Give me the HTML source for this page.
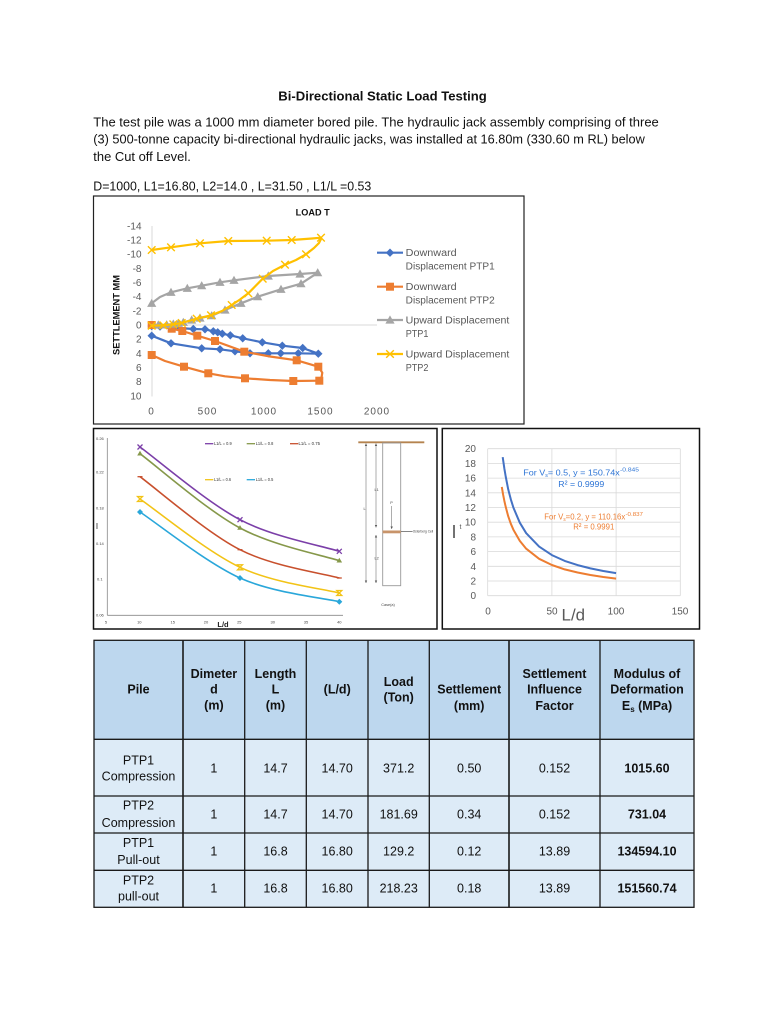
<!DOCTYPE html>
<html><head><meta charset="utf-8"><style>
html,body{margin:0;padding:0;background:#fff;}
svg{display:block;}
text{font-family:"Liberation Sans",sans-serif;}
</style></head><body>
<svg width="768" height="1024" viewBox="0 0 768 1024" xmlns="http://www.w3.org/2000/svg">
<defs>
<path id="dia" d="M0,-4.2 L4.2,0 L0,4.2 L-4.2,0Z" fill="#4472C4"/>
<rect id="sq" x="-4" y="-4" width="8" height="8" fill="#ED7D31"/>
<path id="tri" d="M0,-4.6 L4.6,3.6 L-4.6,3.6Z" fill="#A5A5A5"/>
<path id="xx" d="M-3.8,-3.8 L3.8,3.8 M-3.8,3.8 L3.8,-3.8" stroke="#FFC000" stroke-width="1.4" fill="none"/>
</defs>
<rect width="768" height="1024" fill="#fff"/>

<!-- Heading and paragraph -->
<text x="278.3" y="100.7" font-size="13" font-weight="bold" fill="#111" textLength="208.5" lengthAdjust="spacingAndGlyphs">Bi-Directional Static Load Testing</text>
<text x="93.3" y="126.7" font-size="12.8" fill="#111" textLength="565.5" lengthAdjust="spacingAndGlyphs">The test pile was a 1000 mm diameter bored pile. The hydraulic jack assembly comprising of three</text>
<text x="93.3" y="143.7" font-size="12.8" fill="#111" textLength="551.5" lengthAdjust="spacingAndGlyphs">(3) 500-tonne capacity bi-directional hydraulic jacks, was installed at 16.80m (330.60 m RL) below</text>
<text x="93.3" y="161" font-size="12.8" fill="#111" textLength="97.5" lengthAdjust="spacingAndGlyphs">the Cut off Level.</text>
<text x="93.3" y="190.3" font-size="12.8" fill="#111" textLength="278" lengthAdjust="spacingAndGlyphs">D=1000, L1=16.80, L2=14.0 , L=31.50 , L1/L =0.53</text>

<!-- ============ CHART 1 ============ -->
<rect x="93.5" y="196" width="430.5" height="228" fill="#fff" stroke="#222" stroke-width="1.2"/>
<text x="312.7" y="215.7" font-size="9" font-weight="bold" fill="#111" text-anchor="middle" textLength="34" lengthAdjust="spacingAndGlyphs">LOAD T</text>
<line x1="152" y1="226" x2="152" y2="396.5" stroke="#d9d9d9" stroke-width="1"/>
<line x1="152" y1="325" x2="377" y2="325" stroke="#d9d9d9" stroke-width="1"/>
<g font-size="10" fill="#595959" text-anchor="end">
<text x="141.5" y="229.4">-14</text>
<text x="141.5" y="243.5">-12</text>
<text x="141.5" y="257.7">-10</text>
<text x="141.5" y="271.9">-8</text>
<text x="141.5" y="286">-6</text>
<text x="141.5" y="300.2">-4</text>
<text x="141.5" y="314.3">-2</text>
<text x="141.5" y="328.5">0</text>
<text x="141.5" y="342.7">2</text>
<text x="141.5" y="356.8">4</text>
<text x="141.5" y="371">6</text>
<text x="141.5" y="385.1">8</text>
<text x="141.5" y="399.3">10</text>
</g>
<g font-size="10" fill="#595959" text-anchor="middle" letter-spacing="1">
<text x="151.5" y="414.5">0</text>
<text x="207.5" y="414.5">500</text>
<text x="264" y="414.5">1000</text>
<text x="320.5" y="414.5">1500</text>
<text x="377" y="414.5">2000</text>
</g>
<text transform="translate(119.5,315) rotate(-90)" font-size="9.5" font-weight="bold" fill="#111" text-anchor="middle" textLength="80" lengthAdjust="spacingAndGlyphs">SETTLEMENT MM</text>

<!-- Blue series -->
<g fill="none" stroke="#4472C4" stroke-width="2.2" stroke-linejoin="round" stroke-linecap="round">
<polyline points="151.7,326 193.3,329 205,329.3 213.3,331.3 217.7,332.3 222.3,333.7 230.3,335.3 242.7,338.3 262.3,342.3 282.3,345.7 302.7,348 318.3,353.7"/>
<polyline points="151.7,335.7 171,343.3 201.7,348.3 220,349.3 235,351.3 250,353.3 268.3,353.3 280.7,353.3 298.3,353.3 318.3,353.7"/>
</g>
<use href="#dia" x="151.7" y="326"/><use href="#dia" x="160" y="326.5"/><use href="#dia" x="193.3" y="329"/><use href="#dia" x="205" y="329.3"/><use href="#dia" x="213.3" y="331.3"/><use href="#dia" x="217.7" y="332.3"/><use href="#dia" x="222.3" y="333.7"/><use href="#dia" x="230.3" y="335.3"/><use href="#dia" x="242.7" y="338.3"/><use href="#dia" x="262.3" y="342.3"/><use href="#dia" x="282.3" y="345.7"/><use href="#dia" x="302.7" y="348"/><use href="#dia" x="318.3" y="353.7"/>
<use href="#dia" x="151.7" y="335.7"/><use href="#dia" x="171" y="343.3"/><use href="#dia" x="201.7" y="348.3"/><use href="#dia" x="220" y="349.3"/><use href="#dia" x="235" y="351.3"/><use href="#dia" x="250" y="353.3"/><use href="#dia" x="268.3" y="353.3"/><use href="#dia" x="280.7" y="353.3"/><use href="#dia" x="298.3" y="353.3"/>

<!-- Orange series -->
<g fill="none" stroke="#ED7D31" stroke-width="2.2" stroke-linejoin="round" stroke-linecap="round">
<polyline points="151.7,325 171.7,328.7 182.3,331 197.3,335.7 215,341 244.3,351.7 270,356.5 296.7,360.3 318.3,366.7 322.3,372.7 321,380.7"/>
<polyline points="151.7,355 165,361 184,366.7 208.3,373.3 225,376.3 245,378.3 270,380 293.3,381 319.3,380.7 321,380.7"/>
</g>
<use href="#sq" x="151.7" y="325"/><use href="#sq" x="171.7" y="328.7"/><use href="#sq" x="182.3" y="331"/><use href="#sq" x="197.3" y="335.7"/><use href="#sq" x="215" y="341"/><use href="#sq" x="244.3" y="351.7"/><use href="#sq" x="296.7" y="360.3"/><use href="#sq" x="318.3" y="366.7"/>
<use href="#sq" x="151.7" y="355"/><use href="#sq" x="184" y="366.7"/><use href="#sq" x="208.3" y="373.3"/><use href="#sq" x="245" y="378.3"/><use href="#sq" x="293.3" y="381"/><use href="#sq" x="319.3" y="380.7"/>

<!-- Gray series -->
<g fill="none" stroke="#A5A5A5" stroke-width="2.2" stroke-linejoin="round" stroke-linecap="round">
<polyline points="151.7,303.3 160,297 171,292.3 187.3,288.3 201.7,285.7 220,282.3 234,280.3 268.3,276 300,274 317.7,272.7"/>
<polyline points="151.7,325 158.3,325 166.7,324.7 173.3,324 178.3,323.3 183.3,322.3 191.7,320 200,318 211.7,315.7 225,310 241,303.3 257.7,296.7 281,289.3 301,283.7 317.7,272.7"/>
</g>
<use href="#tri" x="151.7" y="303.3"/><use href="#tri" x="171" y="292.3"/><use href="#tri" x="187.3" y="288.3"/><use href="#tri" x="201.7" y="285.7"/><use href="#tri" x="220" y="282.3"/><use href="#tri" x="234" y="280.3"/><use href="#tri" x="268.3" y="276"/><use href="#tri" x="300" y="274"/><use href="#tri" x="317.7" y="272.7"/>
<use href="#tri" x="158.3" y="325"/><use href="#tri" x="166.7" y="324.7"/><use href="#tri" x="173.3" y="324"/><use href="#tri" x="178.3" y="323.3"/><use href="#tri" x="183.3" y="322.3"/><use href="#tri" x="191.7" y="320"/><use href="#tri" x="200" y="318"/><use href="#tri" x="211.7" y="315.7"/><use href="#tri" x="225" y="310"/><use href="#tri" x="241" y="303.3"/><use href="#tri" x="257.7" y="296.7"/><use href="#tri" x="281" y="289.3"/><use href="#tri" x="301" y="283.7"/>

<!-- Yellow series -->
<g fill="none" stroke="#FFC000" stroke-width="2.2" stroke-linejoin="round" stroke-linecap="round">
<polyline points="151.7,250 171,247.3 200,243.3 228.3,241 266.7,240.7 291.7,240 312,238.5 321,237.7"/>
<polyline points="151.7,325.7 163.3,325.3 173.3,324.3 181.7,323 196.7,318.7 211,315.3 222,311 231.7,305 240,299.5 248.3,293.3 255,286.5 262.7,278.7 273,271 285,264.7 296,260 306,254.3 314,248 319,243 321,239"/>
</g>
<use href="#xx" x="151.7" y="250"/><use href="#xx" x="171" y="247.3"/><use href="#xx" x="200" y="243.3"/><use href="#xx" x="228.3" y="241"/><use href="#xx" x="266.7" y="240.7"/><use href="#xx" x="291.7" y="240"/><use href="#xx" x="321" y="237.7"/>
<use href="#xx" x="151.7" y="325.7"/><use href="#xx" x="163.3" y="325.3"/><use href="#xx" x="173.3" y="324.3"/><use href="#xx" x="181.7" y="323"/><use href="#xx" x="196.7" y="318.7"/><use href="#xx" x="211" y="315.3"/><use href="#xx" x="231.7" y="305"/><use href="#xx" x="248.3" y="293.3"/><use href="#xx" x="262.7" y="278.7"/><use href="#xx" x="285" y="264.7"/><use href="#xx" x="306" y="254.3"/>

<!-- Legend chart 1 -->
<line x1="377" y1="252.7" x2="403" y2="252.7" stroke="#4472C4" stroke-width="2.2"/><use href="#dia" x="390" y="252.7"/>
<line x1="377" y1="286.7" x2="403" y2="286.7" stroke="#ED7D31" stroke-width="2.2"/><use href="#sq" x="390" y="286.7"/>
<line x1="377" y1="320" x2="403" y2="320" stroke="#A5A5A5" stroke-width="2.2"/><use href="#tri" x="390" y="320"/>
<line x1="377" y1="354" x2="403" y2="354" stroke="#FFC000" stroke-width="2.2"/><use href="#xx" x="390" y="354"/>
<g font-size="10" fill="#595959">
<text x="405.7" y="256.2" textLength="51" lengthAdjust="spacingAndGlyphs">Downward</text>
<text x="405.7" y="269.5" textLength="89" lengthAdjust="spacingAndGlyphs">Displacement PTP1</text>
<text x="405.7" y="290.2" textLength="51" lengthAdjust="spacingAndGlyphs">Downward</text>
<text x="405.7" y="303.5" textLength="89" lengthAdjust="spacingAndGlyphs">Displacement PTP2</text>
<text x="405.7" y="323.5" textLength="103.7" lengthAdjust="spacingAndGlyphs">Upward Displacement</text>
<text x="405.7" y="336.8" textLength="22.7" lengthAdjust="spacingAndGlyphs">PTP1</text>
<text x="405.7" y="357.5" textLength="103.7" lengthAdjust="spacingAndGlyphs">Upward Displacement</text>
<text x="405.7" y="370.8" textLength="22.7" lengthAdjust="spacingAndGlyphs">PTP2</text>
</g>

<!-- ============ CHART 2 ============ -->
<rect x="93.5" y="428.5" width="343.5" height="200.5" fill="#fff" stroke="#111" stroke-width="1.5"/>
<line x1="107.3" y1="438" x2="107.3" y2="615.3" stroke="#888" stroke-width="0.8"/>
<line x1="107.3" y1="615.3" x2="343" y2="615.3" stroke="#888" stroke-width="0.8"/>
<g font-size="4" fill="#444" font-family="Liberation Serif,serif">
<text x="96" y="440.2">0.26</text>
<text x="96" y="473.5">0.22</text>
<text x="96" y="509.5">0.18</text>
<text x="96" y="545.2">0.14</text>
<text x="97" y="580.5">0.1</text>
<text x="96" y="616.5">0.06</text>
<g text-anchor="middle">
<text x="106" y="623.5">5</text>
<text x="139.3" y="623.5">10</text>
<text x="172.7" y="623.5">15</text>
<text x="206" y="623.5">20</text>
<text x="239.3" y="623.5">25</text>
<text x="272.7" y="623.5">30</text>
<text x="306" y="623.5">35</text>
<text x="339.3" y="623.5">40</text>
</g>
</g>
<text x="223" y="627" font-size="7.5" font-weight="bold" font-family="Liberation Serif,serif" fill="#222" text-anchor="middle">L/d</text>
<text x="97" y="529" font-size="8" font-family="Liberation Serif,serif" fill="#222" text-anchor="middle">I</text>

<g fill="none" stroke-width="1.6">
<path d="M140,447 C156.7,459.1 206.8,502.3 240,519.7 C273.1,537.1 322.8,546 339.3,551.3" stroke="#7B3FA8"/>
<path d="M140,453.7 C156.7,466.1 206.8,510.2 240,528 C273.1,545.8 322.8,555.3 339.3,560.7" stroke="#86984A"/>
<path d="M140,476.7 C156.7,488.9 206.8,532.8 240,549.7 C273.1,566.6 322.8,573.3 339.3,578" stroke="#C8502D"/>
<path d="M140,499 C156.7,510.4 206.8,551.6 240,567.3 C273.1,583 322.8,588.7 339.3,593" stroke="#F2C316"/>
<path d="M140,512 C156.7,523 206.8,563 240,578 C273.1,593 322.8,597.8 339.3,601.7" stroke="#2AA7DA"/>
</g>
<!-- chart2 markers -->
<g stroke-width="1.3" fill="none">
<path d="M137.5,444.5 L142.5,449.5 M137.5,449.5 L142.5,444.5" stroke="#7B3FA8"/>
<path d="M237.5,517.2 L242.5,522.2 M237.5,522.2 L242.5,517.2" stroke="#7B3FA8"/>
<path d="M336.8,548.8 L341.8,553.8 M336.8,553.8 L341.8,548.8" stroke="#7B3FA8"/>
<path d="M137.5,496.5 L142.5,496.5 L137.5,501.5 L142.5,501.5Z" stroke="#F2C316"/>
<path d="M237.5,564.8 L242.5,564.8 L237.5,569.8 L242.5,569.8Z" stroke="#F2C316"/>
<path d="M336.8,590.5 L341.8,590.5 L336.8,595.5 L341.8,595.5Z" stroke="#F2C316"/>
<path d="M137.5,476.7 L142.5,476.7" stroke="#C8502D"/>
<path d="M237.5,549.7 L242.5,549.7" stroke="#C8502D"/>
<path d="M336.8,578 L341.8,578" stroke="#C8502D"/>
</g>
<path d="M140,450.8 L142.8,455.5 L137.2,455.5Z M240,525.1 L242.8,529.8 L237.2,529.8Z M339.3,557.8 L342.1,562.5 L336.5,562.5Z" fill="#86984A"/>
<path d="M140,509 L143,512 L140,515 L137,512Z M240,575 L243,578 L240,581 L237,578Z M339.3,598.7 L342.3,601.7 L339.3,604.7 L336.3,601.7Z" fill="#2AA7DA"/>

<!-- chart2 legend -->
<g stroke-width="1.3">
<line x1="205" y1="443.7" x2="213.3" y2="443.7" stroke="#7B3FA8"/>
<line x1="246.7" y1="443.7" x2="255" y2="443.7" stroke="#86984A"/>
<line x1="290" y1="443.7" x2="298.3" y2="443.7" stroke="#C8502D"/>
<line x1="205" y1="479.7" x2="213.3" y2="479.7" stroke="#F2C316"/>
<line x1="246.7" y1="479.7" x2="255" y2="479.7" stroke="#2AA7DA"/>
</g>
<g font-size="4.2" fill="#333" font-family="Liberation Serif,serif">
<text x="214" y="445.2" textLength="17.7" lengthAdjust="spacingAndGlyphs">L1/L = 0.9</text>
<text x="255.7" y="445.2" textLength="17.6" lengthAdjust="spacingAndGlyphs">L1/L = 0.8</text>
<text x="298.5" y="445.2" textLength="21.5" lengthAdjust="spacingAndGlyphs">L1/L = 0.75</text>
<text x="214" y="481.2" textLength="17" lengthAdjust="spacingAndGlyphs">L1/L = 0.6</text>
<text x="255.7" y="481.2" textLength="17.6" lengthAdjust="spacingAndGlyphs">L1/L = 0.5</text>
</g>

<!-- pile diagram -->
<line x1="358.3" y1="442.3" x2="424.3" y2="442.3" stroke="#B5834F" stroke-width="1.8"/>
<rect x="382.7" y="443" width="18" height="142.7" fill="none" stroke="#999" stroke-width="0.9"/>
<rect x="382.7" y="530.5" width="18" height="2.8" fill="#C8946A"/>
<g stroke="#777" stroke-width="0.6">
<line x1="366" y1="443.5" x2="366" y2="583"/>
<line x1="376" y1="443.5" x2="376" y2="527.5"/>
<line x1="376" y1="535" x2="376" y2="583"/>
<line x1="391.7" y1="506" x2="391.7" y2="529"/>
<line x1="401" y1="531.5" x2="412.5" y2="531.5" stroke="#333"/>
</g>
<g fill="#555">
<path d="M364.8,446 L366,443.5 L367.2,446Z M364.8,580.5 L366,583 L367.2,580.5Z M374.8,446 L376,443.5 L377.2,446Z M374.8,525 L376,527.5 L377.2,525Z M374.8,537.5 L376,535 L377.2,537.5Z M374.8,580.5 L376,583 L377.2,580.5Z M390.5,526.5 L391.7,529 L392.9,526.5Z"/>
</g>
<g font-size="3.8" fill="#444" font-family="Liberation Serif,serif">
<text x="363.5" y="510">L</text>
<text x="374.5" y="491">L1</text>
<text x="374.5" y="559.5">L2</text>
<text x="390.3" y="504">P</text>
<text x="412.7" y="532.7" textLength="20.5" lengthAdjust="spacingAndGlyphs">Osterberg Cell</text>
<text x="388" y="606" text-anchor="middle">Case(a)</text>
</g>

<!-- ============ CHART 3 ============ -->
<rect x="442.3" y="428.5" width="257.2" height="200.5" fill="#fff" stroke="#111" stroke-width="1.5"/>
<g stroke="#d9d9d9" stroke-width="0.8">
<line x1="487.7" y1="448.7" x2="680.3" y2="448.7"/>
<line x1="487.7" y1="463.4" x2="680.3" y2="463.4"/>
<line x1="487.7" y1="478.1" x2="680.3" y2="478.1"/>
<line x1="487.7" y1="492.8" x2="680.3" y2="492.8"/>
<line x1="487.7" y1="507.5" x2="680.3" y2="507.5"/>
<line x1="487.7" y1="522.2" x2="680.3" y2="522.2"/>
<line x1="487.7" y1="536.9" x2="680.3" y2="536.9"/>
<line x1="487.7" y1="551.6" x2="680.3" y2="551.6"/>
<line x1="487.7" y1="566.3" x2="680.3" y2="566.3"/>
<line x1="487.7" y1="581" x2="680.3" y2="581"/>
<line x1="487.7" y1="595.7" x2="680.3" y2="595.7"/>
<line x1="487.7" y1="448.7" x2="487.7" y2="595.7"/>
<line x1="551.9" y1="448.7" x2="551.9" y2="595.7"/>
<line x1="616.1" y1="448.7" x2="616.1" y2="595.7"/>
<line x1="680.3" y1="448.7" x2="680.3" y2="595.7"/>
</g>
<g font-size="10" fill="#595959" text-anchor="end">
<text x="476" y="452.2">20</text>
<text x="476" y="466.9">18</text>
<text x="476" y="481.6">16</text>
<text x="476" y="496.3">14</text>
<text x="476" y="511">12</text>
<text x="476" y="525.7">10</text>
<text x="476" y="540.4">8</text>
<text x="476" y="555.1">6</text>
<text x="476" y="569.8">4</text>
<text x="476" y="584.5">2</text>
<text x="476" y="599.2">0</text>
</g>
<g font-size="10" fill="#595959" text-anchor="middle">
<text x="488" y="614.5">0</text>
<text x="552" y="614.5">50</text>
<text x="616" y="614.5">100</text>
<text x="680" y="614.5">150</text>
</g>
<text x="573.3" y="620.7" font-size="17" fill="#595959" text-anchor="middle" textLength="23.5" lengthAdjust="spacingAndGlyphs">L/d</text>
<text x="454" y="538" font-size="18" fill="#595959" text-anchor="middle">I</text>
<text x="459.5" y="529" font-size="7" fill="#595959">t</text>

<polyline fill="none" stroke="#4472C4" stroke-width="2" stroke-linejoin="round" points="502.7,457.1 504.4,468.8 505.7,476.5 508.2,489.3 510.8,499.3 513.4,507.6 519.8,522.7 526.2,533.2 539.1,546.6 551.9,555.1 564.7,560.9 577.6,565.1 590.4,568.4 603.3,571 616.1,573.1"/>
<polyline fill="none" stroke="#ED7D31" stroke-width="2" stroke-linejoin="round" points="501.8,486.9 503.1,494.6 504.4,501.1 505.7,506.8 508.2,516.2 510.8,523.7 513.4,529.7 519.8,540.9 526.2,548.7 539.1,558.8 551.9,565 564.7,569.4 577.6,572.5 590.4,575 603.3,576.96 616.1,578.6"/>

<text x="523.3" y="475.3" font-size="8.5" fill="#2E75D6" textLength="96.5" lengthAdjust="spacingAndGlyphs">For V<tspan font-size="5" dy="1.5">s</tspan><tspan dy="-1.5">= 0.5, y = 150.74x</tspan></text>
<text x="620" y="471.5" font-size="5" fill="#2E75D6" textLength="19" lengthAdjust="spacingAndGlyphs">-0.845</text>
<text x="581.3" y="487" font-size="8.5" fill="#2E75D6" text-anchor="middle" textLength="46" lengthAdjust="spacingAndGlyphs">R² = 0.9999</text>
<text x="544.3" y="519.7" font-size="8.5" fill="#ED7D31" textLength="81" lengthAdjust="spacingAndGlyphs">For V<tspan font-size="5" dy="1.5">s</tspan><tspan dy="-1.5">=0.2, y = 110.16x</tspan></text>
<text x="625.5" y="516" font-size="5" fill="#ED7D31" textLength="17.5" lengthAdjust="spacingAndGlyphs">-0.837</text>
<text x="593.8" y="529.7" font-size="8.5" fill="#ED7D31" text-anchor="middle" textLength="41" lengthAdjust="spacingAndGlyphs">R² = 0.9991</text>

<!-- ============ TABLE ============ -->
<rect x="94" y="640.3" width="600" height="99" fill="#BDD7EE"/>
<rect x="94" y="739.3" width="600" height="168" fill="#DDEBF7"/>
<g stroke="#1a1a1a" stroke-width="1.3" fill="none">
<rect x="94" y="640.3" width="600" height="267"/>
<line x1="94" y1="739.3" x2="694" y2="739.3"/>
<line x1="94" y1="796" x2="694" y2="796"/>
<line x1="94" y1="833" x2="694" y2="833"/>
<line x1="94" y1="870.3" x2="694" y2="870.3"/>
<line x1="183" y1="640.3" x2="183" y2="907.3" stroke-width="1.6"/>
<line x1="244.7" y1="640.3" x2="244.7" y2="907.3"/>
<line x1="306.3" y1="640.3" x2="306.3" y2="907.3"/>
<line x1="368" y1="640.3" x2="368" y2="907.3"/>
<line x1="429.3" y1="640.3" x2="429.3" y2="907.3"/>
<line x1="509" y1="640.3" x2="509" y2="907.3" stroke-width="1.6"/>
<line x1="600" y1="640.3" x2="600" y2="907.3"/>
</g>
<g font-size="12.5" font-weight="bold" fill="#111" text-anchor="middle">
<text x="138.5" y="693.5">Pile</text>
<text x="213.9" y="678">Dimeter</text>
<text x="213.9" y="693.5">d</text>
<text x="213.9" y="709.3">(m)</text>
<text x="275.5" y="678">Length</text>
<text x="275.5" y="693.5">L</text>
<text x="275.5" y="709.3">(m)</text>
<text x="337.2" y="693.5">(L/d)</text>
<text x="398.7" y="686">Load</text>
<text x="398.7" y="701.3">(Ton)</text>
<text x="469.2" y="693.5">Settlement</text>
<text x="469.2" y="710">(mm)</text>
<text x="554.5" y="678">Settlement</text>
<text x="554.5" y="693.5">Influence</text>
<text x="554.5" y="710">Factor</text>
<text x="647" y="678">Modulus of</text>
<text x="647" y="693.5">Deformation</text>
<text x="647" y="710">E<tspan font-size="8" dy="2">s</tspan><tspan dy="-2"> (MPa)</tspan></text>
</g>
<g font-size="12.5" fill="#111" text-anchor="middle">
<text x="138.5" y="764.6">PTP1</text>
<text x="138.5" y="780.3">Compression</text>
<text x="213.9" y="772.3">1</text>
<text x="275.5" y="772.3">14.7</text>
<text x="337.2" y="772.3">14.70</text>
<text x="398.7" y="772.3">371.2</text>
<text x="469.2" y="772.3">0.50</text>
<text x="554.5" y="772.3">0.152</text>
<text x="647" y="772.3" font-weight="bold">1015.60</text>

<text x="138.5" y="809.6">PTP2</text>
<text x="138.5" y="826.8">Compression</text>
<text x="213.9" y="818.6">1</text>
<text x="275.5" y="818.6">14.7</text>
<text x="337.2" y="818.6">14.70</text>
<text x="398.7" y="818.6">181.69</text>
<text x="469.2" y="818.6">0.34</text>
<text x="554.5" y="818.6">0.152</text>
<text x="647" y="818.6" font-weight="bold">731.04</text>

<text x="138.5" y="847">PTP1</text>
<text x="138.5" y="864">Pull-out</text>
<text x="213.9" y="855.3">1</text>
<text x="275.5" y="855.3">16.8</text>
<text x="337.2" y="855.3">16.80</text>
<text x="398.7" y="855.3">129.2</text>
<text x="469.2" y="855.3">0.12</text>
<text x="554.5" y="855.3">13.89</text>
<text x="647" y="855.3" font-weight="bold">134594.10</text>

<text x="138.5" y="884.6">PTP2</text>
<text x="138.5" y="900.6">pull-out</text>
<text x="213.9" y="892.3">1</text>
<text x="275.5" y="892.3">16.8</text>
<text x="337.2" y="892.3">16.80</text>
<text x="398.7" y="892.3">218.23</text>
<text x="469.2" y="892.3">0.18</text>
<text x="554.5" y="892.3">13.89</text>
<text x="647" y="892.3" font-weight="bold">151560.74</text>
</g>
</svg>
</body></html>
